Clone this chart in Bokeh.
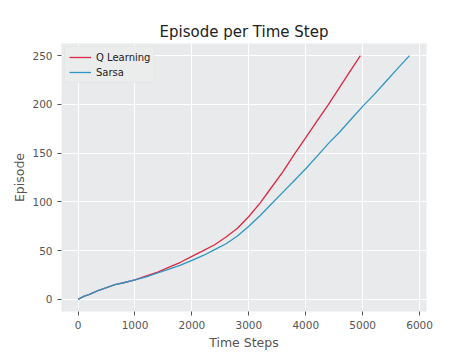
from bokeh.plotting import figure
from bokeh.models import Range1d, Legend, LegendItem, FixedTicker
from bokeh.embed import file_html
from bokeh.resources import INLINE

# Data
q_steps = [0, 100, 200, 350, 500, 650, 800, 1000, 1200, 1400, 1600, 1800, 2000, 2200, 2400,
           2600, 2800, 3000, 3200, 3400, 3600, 3800, 4000, 4200, 4400, 4600, 4800, 4960]
q_episode = [0, 3, 5, 9, 12, 15, 17, 20, 24, 28, 33, 38, 44, 50, 56,
             64, 73, 85, 99, 115, 131, 149, 166, 183, 200, 218, 236, 250]

s_steps = [0, 100, 200, 350, 500, 650, 800, 1000, 1200, 1400, 1600, 1800, 2000, 2200, 2400,
           2600, 2800, 3000, 3200, 3400, 3600, 3800, 4000, 4200, 4400, 4600, 4800, 5000,
           5200, 5400, 5600, 5822]
s_episode = [0, 3, 5, 9, 12, 15, 17, 20, 23, 27, 31, 35, 40, 45, 51,
             57, 65, 75, 86, 98, 110, 122, 134, 147, 160, 172, 185, 198,
             210, 223, 236, 250]

x_ticks = [0, 1000, 2000, 3000, 4000, 5000, 6000]
y_ticks = [0, 50, 100, 150, 200, 250]

FONT = "DejaVu Sans"
TICK_COLOR = "#555555"

p = figure(width=474, height=352, output_backend="svg", toolbar_location=None,
           x_range=Range1d(-291, 6121), y_range=Range1d(-12.5, 262.5),
           min_border_left=61, min_border_right=48, min_border_top=43, min_border_bottom=39)

p.background_fill_color = "#E9EAEB"
p.border_fill_color = "white"
p.outline_line_color = None

p.title.text = "Episode per Time Step"
p.title.align = "center"
p.title.text_font = FONT
p.title.text_font_size = "15px"
p.title.text_font_style = "normal"
p.title.text_color = "#222222"
p.title.standoff = 5

for ax in (p.xaxis, p.yaxis):
    ax.axis_line_color = None
    ax.major_tick_line_color = TICK_COLOR
    ax.major_tick_out = 4
    ax.major_tick_in = 0
    ax.minor_tick_line_color = None
    ax.major_label_text_font = FONT
    ax.major_label_text_font_size = "10.5px"
    ax.major_label_text_color = TICK_COLOR
    ax.axis_label_text_font = FONT
    ax.axis_label_text_font_size = "12.5px"
    ax.axis_label_text_font_style = "normal"
    ax.axis_label_text_color = TICK_COLOR

p.xaxis.ticker = FixedTicker(ticks=x_ticks)
p.yaxis.ticker = FixedTicker(ticks=y_ticks)
p.xaxis.axis_label = "Time Steps"
p.yaxis.axis_label = "Episode"
p.xaxis.axis_label_standoff = 3
p.yaxis.axis_label_standoff = 2

p.xgrid.grid_line_color = "white"
p.ygrid.grid_line_color = "white"
p.xgrid.grid_line_width = 1
p.ygrid.grid_line_width = 1

r1 = p.line(q_steps, q_episode, line_color="#DC2845", line_width=1.3)
r2 = p.line(s_steps, s_episode, line_color="#2D96C4", line_width=1.3)

legend = Legend(items=[LegendItem(label="Q Learning", renderers=[r1]),
                       LegendItem(label="Sarsa", renderers=[r2])],
                location="top_left")
legend.background_fill_color = "#EBECEC"
legend.background_fill_alpha = 1.0
legend.border_line_color = "#E0E0E0"
legend.label_text_font = FONT
legend.label_text_font_size = "10px"
legend.label_text_color = "#222222"
legend.glyph_width = 22
legend.glyph_height = 12
legend.label_height = 12
legend.spacing = 3
legend.padding = 4
legend.margin = 3
p.add_layout(legend)

open("out.html", "w").write(file_html(p, INLINE))
